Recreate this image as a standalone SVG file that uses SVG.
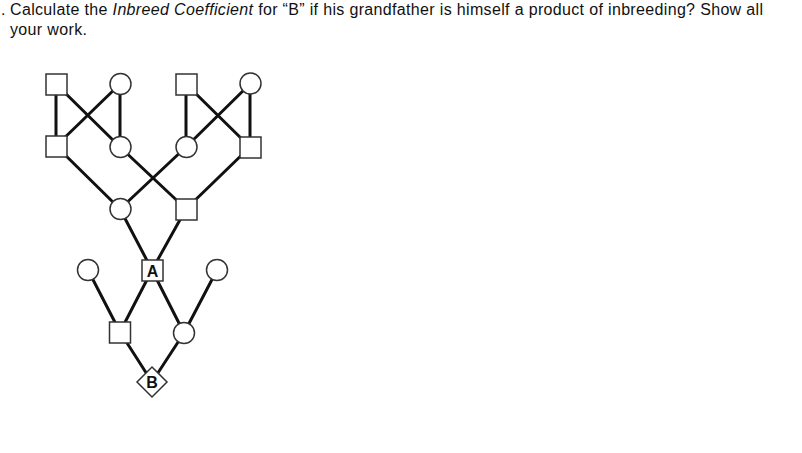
<svg xmlns="http://www.w3.org/2000/svg" width="802" height="453" viewBox="0 0 802 453">
<style>
.t{font-family:"Liberation Sans",Arial,sans-serif;font-size:16px;fill:#111}
.e{stroke:#111;stroke-width:3;fill:none;stroke-linecap:round}
.n{fill:#fff;stroke:#333;stroke-width:1.5}
.lab{font-family:"Liberation Sans",Arial,sans-serif;font-size:16px;font-weight:bold;fill:#111;text-anchor:middle}
</style>
<rect width="802" height="453" fill="#fff"/>
<text class="t" x="1" y="15">.</text>
<text class="t" x="10" y="15" textLength="753" lengthAdjust="spacing">Calculate the <tspan font-style="italic">Inbreed Coefficient</tspan> for “B” if his grandfather is himself a product of inbreeding? Show all</text>
<text class="t" x="10" y="35" textLength="77" lengthAdjust="spacing">your work.</text>
<g id="connectors">
<line class="e" x1="56" y1="84" x2="56" y2="146"/>
<line class="e" x1="56" y1="84" x2="120" y2="147"/>
<line class="e" x1="120" y1="84" x2="56" y2="146"/>
<line class="e" x1="120" y1="84" x2="120" y2="147"/>
<line class="e" x1="186" y1="84" x2="186" y2="147"/>
<line class="e" x1="186" y1="84" x2="250" y2="147"/>
<line class="e" x1="250" y1="84" x2="186" y2="147"/>
<line class="e" x1="250" y1="84" x2="250" y2="147"/>
<line class="e" x1="56" y1="146" x2="120" y2="209"/>
<line class="e" x1="120" y1="147" x2="186" y2="209"/>
<line class="e" x1="186" y1="147" x2="120" y2="209"/>
<line class="e" x1="250" y1="147" x2="186" y2="209"/>
<line class="e" x1="120" y1="209" x2="152" y2="270"/>
<line class="e" x1="186" y1="209" x2="152" y2="270"/>
<line class="e" x1="88" y1="270" x2="120" y2="332"/>
<line class="e" x1="152" y1="270" x2="120" y2="332"/>
<line class="e" x1="152" y1="270" x2="184" y2="333"/>
<line class="e" x1="217" y1="270" x2="184" y2="333"/>
<line class="e" x1="120" y1="332" x2="152" y2="382"/>
<line class="e" x1="184" y1="333" x2="152" y2="382"/>
</g>
<g id="n1"><rect class="n" x="46" y="74" width="21" height="21"/></g>
<g id="n2"><circle class="n" cx="120.5" cy="84" r="10.5"/></g>
<g id="n3"><rect class="n" x="176" y="74" width="21" height="21"/></g>
<g id="n4"><circle class="n" cx="250.5" cy="83.5" r="10.5"/></g>
<g id="n5"><rect class="n" x="46" y="136" width="21" height="21"/></g>
<g id="n6"><circle class="n" cx="120.5" cy="147" r="10.5"/></g>
<g id="n7"><circle class="n" cx="186.5" cy="147" r="10.5"/></g>
<g id="n8"><rect class="n" x="240" y="137" width="21" height="21"/></g>
<g id="n9"><circle class="n" cx="120.5" cy="209" r="10.5"/></g>
<g id="n10"><rect class="n" x="176" y="199" width="21" height="21"/></g>
<g id="nA"><rect class="n" x="142" y="260" width="21" height="21" stroke-width="2"/><text class="lab" x="152.5" y="276.5">A</text></g>
<g id="n11"><circle class="n" cx="88" cy="270" r="10.5"/></g>
<g id="n12"><circle class="n" cx="217" cy="270" r="10.5"/></g>
<g id="n13"><rect class="n" x="109.5" y="322" width="21" height="21"/></g>
<g id="n14"><circle class="n" cx="184" cy="333" r="10.5"/></g>
<g id="nB"><polygon class="n" points="152,367 167,382 152,397 137,382"/><text class="lab" x="152" y="388">B</text></g>
</svg>
